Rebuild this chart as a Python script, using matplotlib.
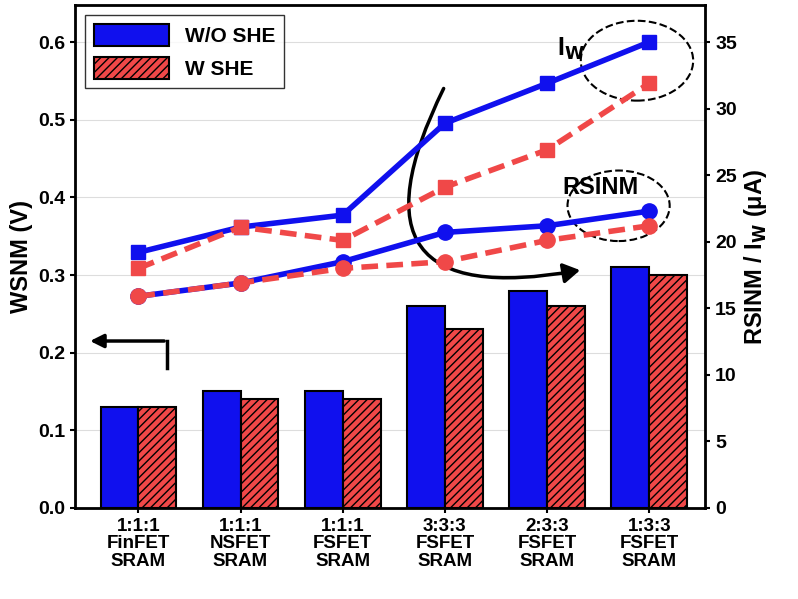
import matplotlib
matplotlib.use("Agg")
import matplotlib.pyplot as plt
from matplotlib.patches import Ellipse, FancyArrowPatch
import numpy as np

plt.rcParams["font.family"] = ["Liberation Sans", "DejaVu Sans"]
plt.rcParams["font.weight"] = "bold"
plt.rcParams["hatch.color"] = "#3a0a0a"

categories = ["1:1:1\nFinFET\nSRAM", "1:1:1\nNSFET\nSRAM", "1:1:1\nFSFET\nSRAM",
              "3:3:3\nFSFET\nSRAM", "2:3:3\nFSFET\nSRAM", "1:3:3\nFSFET\nSRAM"]
wsnm_wo = [0.13, 0.15, 0.15, 0.26, 0.28, 0.31]
wsnm_w = [0.13, 0.14, 0.14, 0.23, 0.26, 0.30]
iw_wo = [19.2, 21.1, 22.0, 28.9, 31.9, 35.0]
iw_w = [18.0, 21.1, 20.1, 24.1, 26.9, 31.9]
rsinm_wo = [15.9, 16.9, 18.5, 20.7, 21.2, 22.3]
rsinm_w = [15.9, 16.9, 18.0, 18.5, 20.1, 21.2]

blue = "#1010ee"
red = "#f04848"

fig = plt.figure(figsize=(7.98, 5.99), dpi=100)
ax = fig.add_axes((0.094, 0.152, 0.790, 0.84))
x = np.arange(len(categories))
w = 0.37
ax.bar(x - w / 2, wsnm_wo, w, color=blue, edgecolor="black", lw=1.5, label="W/O SHE")
ax.bar(x + w / 2, wsnm_w, w, color=red, edgecolor="black", lw=1.5, hatch="////", label="W SHE")
ax.set_ylim(0, 0.648)
ax.set_xlim(-0.62, 5.55)
ax.set_yticks(np.arange(0, 0.61, 0.1))
ax.set_yticklabels([f"{v:.1f}" for v in np.arange(0, 0.61, 0.1)])
ax.set_ylabel("WSNM (V)", fontsize=17, fontweight="bold")
ax.set_xticks(x)
ax.set_xticklabels(categories, fontweight="bold", linespacing=1.05)
ax.tick_params(labelsize=14, width=1.5, direction="out")
ax.tick_params(axis="x", labelsize=13.5)
ax.grid(axis="y", color="#dddddd", lw=0.8)
ax.set_axisbelow(True)
for s in ax.spines.values():
    s.set_linewidth(2)
ax.legend(loc="upper left", fontsize=15, frameon=True, edgecolor="black",
          fancybox=False, handlelength=3.6, handleheight=1.3, bbox_to_anchor=(0.0, 1.0))

ax2 = ax.twinx()
ax2.set_ylim(0, 37.8)
ax2.set_yticks(range(0, 36, 5))
ax2.tick_params(labelsize=14, width=1.5)
ax2.set_ylabel("RSINM / I$_\\mathbf{W}$ (μA)", fontsize=17, fontweight="bold")
ax2.plot(x, iw_wo, "-s", color=blue, lw=4, ms=10)
ax2.plot(x, iw_w, "--s", color=red, lw=4, ms=10, dashes=(3, 1.5))
ax2.plot(x, rsinm_wo, "-o", color=blue, lw=4, ms=11)
ax2.plot(x, rsinm_w, "--o", color=red, lw=4, ms=11, dashes=(3, 1.5))

ax2.add_patch(Ellipse((4.88, 33.6), 1.1, 6.0, fill=False, ls="--", lw=1.5, color="black"))
ax2.add_patch(Ellipse((4.7, 22.7), 1.0, 5.3, fill=False, ls="--", lw=1.5, color="black"))
ax2.text(4.1, 34.0, "I$_\\mathbf{W}$", fontsize=18, fontweight="bold")
ax2.text(4.15, 23.6, "RSINM", fontsize=17, fontweight="bold")
ax2.add_patch(FancyArrowPatch((3.0, 31.7), (4.35, 17.9), connectionstyle="arc3,rad=1.0",
                              arrowstyle="-|>,head_length=10,head_width=6", lw=2.5, color="black"))
ax.annotate("", xy=(-0.5, 0.215), xytext=(0.28, 0.215),
            arrowprops=dict(arrowstyle="-|>,head_length=0.8,head_width=0.4", lw=2.5, color="black"))
ax.plot([0.28, 0.28], [0.215, 0.18], color="black", lw=2.5)

fig.savefig("out.png", dpi=100)
